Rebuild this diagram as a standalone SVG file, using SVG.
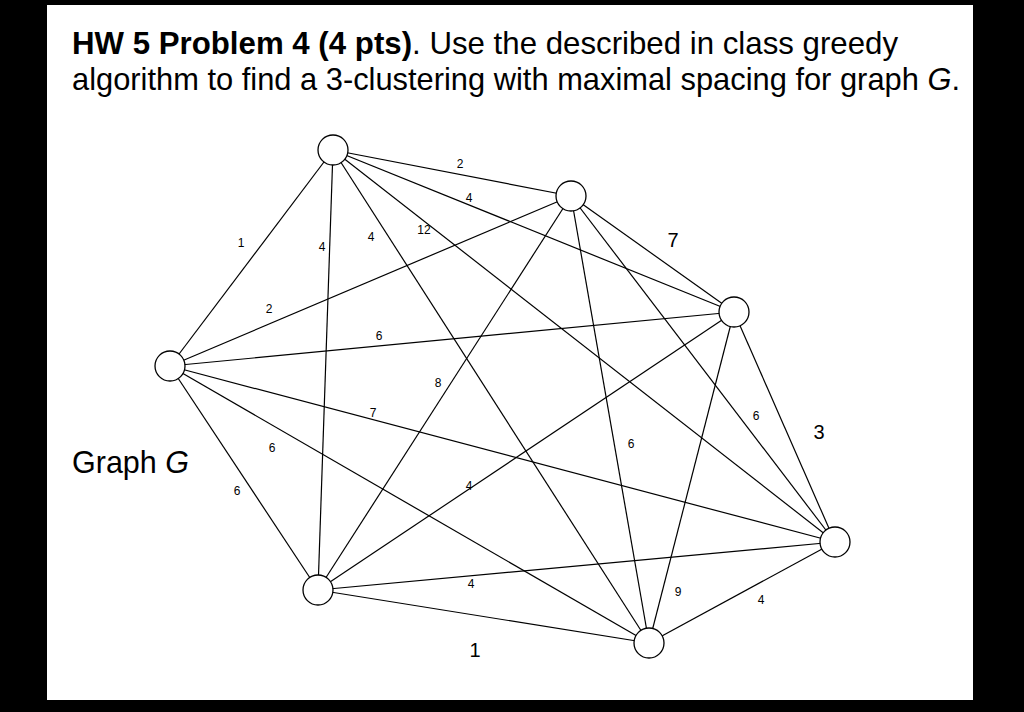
<svg xmlns="http://www.w3.org/2000/svg" width="1024" height="712" viewBox="0 0 1024 712">
<style>
.e{stroke:#000;stroke-width:1.2;fill:none}
.n{fill:#fff;stroke:#000;stroke-width:1.3}
.s{font-family:"Liberation Sans",Arial,sans-serif;font-size:12px;text-anchor:middle}
.b{font-family:"Liberation Sans",Arial,sans-serif;font-size:20px;text-anchor:middle}
.t{font-family:"Liberation Sans",Arial,sans-serif;font-size:30.5px}
</style>
<rect width="1024" height="712" fill="#000"/>
<rect x="47" y="5" width="926" height="695" fill="#fff"/>
<text class="t" x="72" y="54" textLength="826" lengthAdjust="spacingAndGlyphs"><tspan font-weight="bold">HW 5  Problem 4 (4 pts)</tspan>. Use the described in class greedy</text>
<text class="t" x="72" y="90" textLength="888" lengthAdjust="spacingAndGlyphs">algorithm to find a 3-clustering with maximal spacing for graph <tspan font-style="italic">G</tspan>.</text>
<text class="t" x="72" y="473">Graph <tspan font-style="italic">G</tspan></text>
<g id="connectors">
<line class="e" x1="333" y1="150" x2="571" y2="196"/>
<line class="e" x1="333" y1="150" x2="734" y2="312"/>
<line class="e" x1="333" y1="150" x2="835" y2="542"/>
<line class="e" x1="333" y1="150" x2="649" y2="643"/>
<line class="e" x1="333" y1="150" x2="318" y2="590"/>
<line class="e" x1="333" y1="150" x2="170" y2="366"/>
<line class="e" x1="571" y1="196" x2="170" y2="366"/>
<line class="e" x1="571" y1="196" x2="318" y2="590"/>
<line class="e" x1="571" y1="196" x2="649" y2="643"/>
<line class="e" x1="571" y1="196" x2="835" y2="542"/>
<line class="e" x1="571" y1="196" x2="734" y2="312"/>
<line class="e" x1="734" y1="312" x2="170" y2="366"/>
<line class="e" x1="734" y1="312" x2="318" y2="590"/>
<line class="e" x1="734" y1="312" x2="649" y2="643"/>
<line class="e" x1="734" y1="312" x2="835" y2="542"/>
<line class="e" x1="835" y1="542" x2="170" y2="366"/>
<line class="e" x1="835" y1="542" x2="318" y2="590"/>
<line class="e" x1="835" y1="542" x2="649" y2="643"/>
<line class="e" x1="649" y1="643" x2="170" y2="366"/>
<line class="e" x1="649" y1="643" x2="318" y2="590"/>
<line class="e" x1="318" y1="590" x2="170" y2="366"/>
</g>
<g id="A"><circle class="n" cx="333" cy="150" r="15"/></g>
<g id="B"><circle class="n" cx="571" cy="196" r="15"/></g>
<g id="C"><circle class="n" cx="734" cy="312" r="15"/></g>
<g id="D"><circle class="n" cx="835" cy="542" r="15"/></g>
<g id="E"><circle class="n" cx="649" cy="643" r="15"/></g>
<g id="F"><circle class="n" cx="318" cy="590" r="15"/></g>
<g id="G"><circle class="n" cx="170" cy="366" r="15"/></g>
<g id="labels">
<text class="s" x="460" y="168">2</text>
<text class="s" x="469" y="202">4</text>
<text class="s" x="424" y="234">12</text>
<text class="s" x="371" y="241">4</text>
<text class="s" x="322" y="251">4</text>
<text class="s" x="241" y="247">1</text>
<text class="s" x="269" y="313">2</text>
<text class="s" x="379" y="340">6</text>
<text class="s" x="438" y="387">8</text>
<text class="s" x="373" y="417">7</text>
<text class="s" x="272" y="452">6</text>
<text class="s" x="237" y="495">6</text>
<text class="s" x="469" y="490">4</text>
<text class="s" x="631" y="448">6</text>
<text class="s" x="756" y="420">6</text>
<text class="s" x="471" y="588">4</text>
<text class="s" x="678" y="596">9</text>
<text class="s" x="761" y="604">4</text>
<text class="b" x="673" y="247">7</text>
<text class="b" x="819" y="439">3</text>
<text class="b" x="475" y="657">1</text>
</g>
</svg>
